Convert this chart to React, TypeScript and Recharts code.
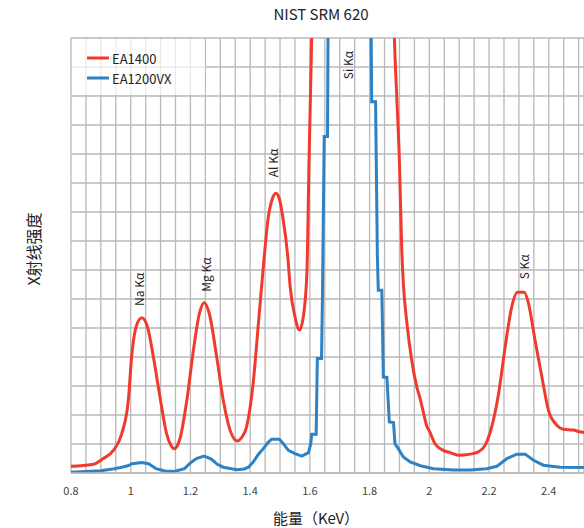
import { LineChart, Line, XAxis, YAxis, CartesianGrid, ReferenceDot } from 'recharts';

// EA1400 spectrum (energy in keV, relative intensity in grid units)
const ea1400Energy = [
  0.8, 0.84, 0.875, 0.908, 0.942, 0.97, 0.992, 1.003, 1.018, 1.037, 1.056, 1.076, 1.098, 1.12, 1.135,
  1.145, 1.155, 1.165, 1.188, 1.21, 1.23, 1.246, 1.263, 1.288, 1.31, 1.333, 1.357, 1.37, 1.388, 1.41,
  1.428, 1.444, 1.461, 1.474, 1.486, 1.498, 1.509, 1.526, 1.534, 1.55, 1.565, 1.578, 1.59, 1.597, 1.606,
  1.615, 1.75, 1.875, 1.883, 1.891, 1.9, 1.908, 1.913, 1.925, 1.941, 1.958, 1.969, 1.98, 1.992, 2.0,
  2.019, 2.047, 2.07, 2.097, 2.137, 2.164, 2.187, 2.209, 2.232, 2.254, 2.276, 2.295, 2.318, 2.332, 2.354,
  2.377, 2.399, 2.427, 2.449, 2.483, 2.503, 2.518,
];
const ea1400Intensity = [
  0.23, 0.26, 0.3, 0.5, 0.78, 1.36, 2.51, 4.0, 5.04, 5.35, 5.04, 4.0, 2.62, 1.36, 0.95,
  0.84, 0.92, 1.19, 2.51, 4.24, 5.5, 5.87, 5.5, 4.0, 2.51, 1.47, 1.1, 1.2, 1.59, 3.09,
  5.2, 7.1, 8.84, 9.45, 9.65, 9.45, 8.84, 7.46, 6.42, 5.39, 4.93, 5.39, 6.9, 10.68, 15,
  19, 30, 19, 15, 12.98, 10.68, 7.6, 6.54, 5.16, 3.89, 2.97, 2.57, 2.1, 1.6, 1.45,
  1.01, 0.78, 0.7, 0.61, 0.65, 0.73, 0.96, 1.59, 2.74, 4.35, 5.73, 6.23, 6.23, 5.85, 4.58,
  3.31, 2.16, 1.65, 1.51, 1.48, 1.42, 1.4,
];

// EA1200VX spectrum
const ea1200Energy = [
  0.8, 0.85, 0.9, 0.945, 0.97, 0.99, 1.005, 1.037, 1.06, 1.085, 1.115, 1.145, 1.18, 1.2, 1.22,
  1.246, 1.27, 1.29, 1.31, 1.355, 1.38, 1.394, 1.41, 1.428, 1.444, 1.461, 1.472, 1.498, 1.511, 1.528,
  1.55, 1.573, 1.595, 1.603, 1.606, 1.621, 1.625, 1.639, 1.642, 1.648, 1.659, 1.661, 1.73, 1.805, 1.807,
  1.82, 1.826, 1.829, 1.841, 1.846, 1.858, 1.866, 1.88, 1.885, 1.896, 1.913, 1.936, 1.97, 2.014, 2.08,
  2.137, 2.192, 2.226, 2.26, 2.293, 2.321, 2.349, 2.382, 2.438, 2.518,
];
const ea1200Intensity = [
  0.03, 0.05, 0.08, 0.15, 0.2, 0.25, 0.32, 0.36, 0.32, 0.15, 0.07, 0.05, 0.15, 0.35, 0.5,
  0.58, 0.48, 0.3, 0.2, 0.11, 0.14, 0.2, 0.38, 0.65, 0.84, 1.07, 1.16, 1.16, 1.01, 0.78,
  0.67, 0.58, 0.7, 1.01, 1.34, 1.34, 3.95, 3.95, 6, 11.6, 11.6, 15.5, 30, 15.5, 12.8,
  12.8, 7.5, 6.3, 6.3, 3.31, 3.3, 1.76, 1.74, 1.01, 0.84, 0.55, 0.38, 0.25, 0.15, 0.1,
  0.1, 0.15, 0.23, 0.5, 0.65, 0.65, 0.44, 0.27, 0.2, 0.19,
];

// peak labels: text, energy, intensity where the text starts
const peakNames = ['Na Kα', 'Mg Kα', 'Al Kα', 'Si Kα', 'S Kα'];
const peakEnergy = [1.025, 1.252, 1.474, 1.726, 2.315];
const peakLabelAt = [5.76, 6.25, 10.2, 13.58, 6.68];

const xTicks = [
  0.8, 0.85, 0.9, 0.95, 1, 1.05, 1.1, 1.15, 1.2, 1.25, 1.3, 1.35, 1.4, 1.45, 1.5, 1.55, 1.6, 1.65,
  1.7, 1.75, 1.8, 1.85, 1.9, 1.95, 2, 2.05, 2.1, 2.15, 2.2, 2.25, 2.3, 2.35, 2.4, 2.45, 2.5,
];
const yTicks = [0, 1, 2, 3, 4, 5, 6, 7, 8, 9, 10, 11, 12, 13, 14, 15];

const ea1400Data = ea1400Energy.map((kev, i) => ({ kev, value: ea1400Intensity[i] }));
const ea1200Data = ea1200Energy.map((kev, i) => ({ kev, value: ea1200Intensity[i] }));

const RED = '#ef3b2e';
const BLUE = '#2e82c4';
const FONT = '"Noto Sans CJK SC", "Noto Sans", sans-serif';

const formatTick = (v: number) => {
  // only every 0.2 keV gets a label
  if (Math.abs(v * 5 - Math.round(v * 5)) > 1e-6) return '';
  return String(Math.round(v * 10) / 10);
};

export default function App() {
  return (
    <div style={{ position: 'absolute', left: 0, top: 0, width: 584, height: 528, fontFamily: FONT, background: '#fff' }}>
      <LineChart width={584} height={528} margin={{ top: 38, right: 0, left: 71, bottom: 30 }}>
        <CartesianGrid stroke="#b9b9b9" strokeWidth={1.3} />
        <XAxis
          dataKey="kev"
          type="number"
          domain={[0.8, 2.518]}
          ticks={xTicks}
          interval={0}
          allowDataOverflow
          tickFormatter={formatTick}
          tickLine={false}
          axisLine={{ stroke: '#b9b9b9', strokeWidth: 1.3 }}
          tick={{ fill: '#444', fontSize: 11, fontFamily: FONT }}
          tickMargin={8}
          height={25}
        />
        <YAxis type="number" domain={[0, 15]} ticks={yTicks} allowDataOverflow hide />
        <Line
          data={ea1400Data}
          dataKey="value"
          type="monotone"
          stroke={RED}
          strokeWidth={3}
          dot={false}
          isAnimationActive={false}
        />
        <Line
          data={ea1200Data}
          dataKey="value"
          type="linear"
          stroke={BLUE}
          strokeWidth={3}
          dot={false}
          isAnimationActive={false}
        />
        {peakNames.map((name, i) => (
          <ReferenceDot
            key={name}
            x={peakEnergy[i]}
            y={peakLabelAt[i]}
            r={0}
            ifOverflow="visible"
            shape={(p: any) => (
              <text
                x={p.cx}
                y={p.cy}
                transform={`rotate(-90 ${p.cx} ${p.cy})`}
                dominantBaseline="central"
                fontSize={12}
                fill="#222"
                fontFamily={FONT}
              >
                {name}
              </text>
            )}
          />
        ))}
      </LineChart>

      <div style={{ position: 'absolute', left: 321, top: 13, transform: 'translate(-50%, -50%)', fontSize: 15, color: '#222', whiteSpace: 'nowrap' }}>
        NIST SRM 620
      </div>
      <div style={{ position: 'absolute', left: 33, top: 249, transform: 'translate(-50%, -50%) rotate(-90deg)', fontSize: 16, color: '#222', whiteSpace: 'nowrap' }}>
        X射线强度
      </div>
      <div style={{ position: 'absolute', left: 316, top: 517, transform: 'translate(-50%, -50%)', fontSize: 15, color: '#222', whiteSpace: 'nowrap' }}>
        能量（KeV）
      </div>

      {/* legend box sits over the grid */}
      <div style={{ position: 'absolute', left: 72, top: 39, width: 133, height: 56, background: 'rgba(255,255,255,0.7)' }}>
        {[
          { name: 'EA1400', color: RED, top: 19 },
          { name: 'EA1200VX', color: BLUE, top: 39 },
        ].map((item) => (
          <div key={item.name} style={{ position: 'absolute', left: 15, top: item.top, transform: 'translateY(-50%)', display: 'flex', alignItems: 'center' }}>
            <span style={{ display: 'inline-block', width: 22, height: 3, background: item.color, marginRight: 3 }} />
            <span style={{ fontSize: 13, color: '#222', whiteSpace: 'nowrap' }}>{item.name}</span>
          </div>
        ))}
      </div>
    </div>
  );
}
